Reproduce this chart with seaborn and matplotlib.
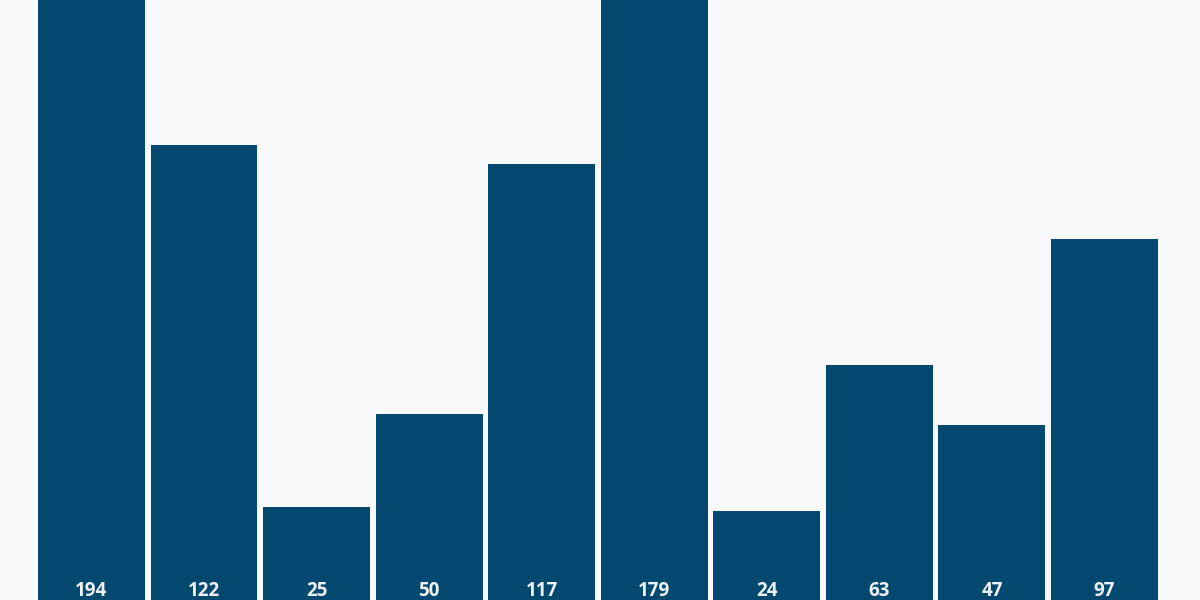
import numpy as np
import pandas as pd
import matplotlib
matplotlib.use("Agg")
import matplotlib.pyplot as plt
import seaborn as sns

# bar values
categories = [str(i) for i in range(10)]
values = [194, 122, 25, 50, 117, 179, 24, 63, 47, 97]

bg_color = "#f8f9fb"
bar_color = "#03486f"

sns.set_style("white")
plt.rcParams['font.family'] = ['Open Sans', 'DejaVu Sans']

df = pd.DataFrame({"cat": categories, "value": values})

fig = plt.figure(figsize=(12, 6), dpi=100)
fig.patch.set_facecolor(bg_color)
ax = fig.add_axes([0.0293, 0.0, 0.938, 1.0])
ax.set_facecolor(bg_color)

sns.barplot(data=df, x="cat", y="value", color=bar_color, saturation=1,
            width=0.95, ax=ax, linewidth=0)

ax.set_xlim(-0.5, len(values) - 0.5)
ax.set_ylim(0, 161.0)

# value labels at the foot of each bar
for i, v in enumerate(values):
    ax.annotate(str(v), xy=(i, 0), xytext=(0, 2.6), textcoords="offset points",
                ha="center", va="baseline", color="#eef2f7",
                fontsize=13.5, fontweight="bold")

ax.set_axis_off()
fig.savefig("out.png", dpi=100, facecolor=bg_color)
